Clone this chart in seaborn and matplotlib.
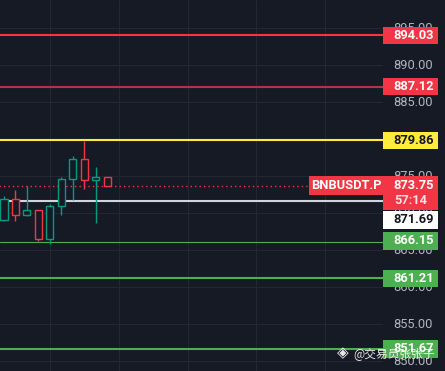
import matplotlib
matplotlib.use("Agg")
import matplotlib.pyplot as plt
from matplotlib.patches import Rectangle
import seaborn as sns
import numpy as np

# ---- data ----
opens = [869.15, 871.99, 869.82, 870.50, 866.58, 871.04, 874.69, 877.39, 874.55, 874.96]
closes = [871.99, 869.82, 870.50, 866.58, 871.04, 874.69, 877.39, 874.55, 874.96, 873.75]
highs = [872.30, 873.11, 873.65, 870.50, 871.22, 874.91, 877.70, 879.77, 876.22, 874.96]
lows = [868.96, 868.96, 869.64, 866.26, 865.85, 869.73, 871.85, 873.34, 868.69, 873.75]

level_prices = [894.03, 887.12, 879.86, 871.69, 866.15, 861.21, 851.67]
level_colors = ["#F23645", "#B8323F", "#FFEB3B", "#D1D4DC", "#4CAF50", "#4CAF50", "#4CAF50"]
level_widths = [1.5, 1.5, 1.5, 1.5, 0.8, 1.5, 1.5]
box_colors = ["#F23645", "#F23645", "#FFEB3B", "#FFFFFF", "#4CAF50", "#4CAF50", "#4CAF50"]
box_text_colors = ["white", "white", "#131722", "#131722", "white", "white", "white"]
box_centers = [894.03, 887.12, 879.86, 869.12, 866.28, 861.21, 851.67]

last_price = 873.75
countdown = "57:14"
symbol = "BNBUSDT.P"
tick_values = [850, 855, 860, 865, 870, 875, 880, 885, 890, 895]
watermark = "@交易员张张子"

BG = "#161A25"
GRID = "#242733"
UP = "#089981"
DOWN = "#F23645"

sns.set_theme(style="dark", rc={"axes.facecolor": BG, "figure.facecolor": BG})

W, H = 445, 371
fig = plt.figure(figsize=(W / 100, H / 100), dpi=100)
ax = fig.add_axes([0, 0, 383 / W, 1])
ax.set_facecolor(BG)
px = 11.47
ax.set_xlim(-4 / px, (383 - 4) / px)
ylo, yhi = 848.69, 898.82
ax.set_ylim(ylo, yhi)
for s in ax.spines.values():
    s.set_visible(False)
ax.set_xticks([])
ax.set_yticks([])

# grid
for v in tick_values:
    ax.axhline(v, color=GRID, lw=0.8, zorder=0)
for g in [4, 10, 16, 22, 28]:
    ax.axvline(g, color=GRID, lw=0.8, zorder=0)

# levels
for p, c, w in zip(level_prices, level_colors, level_widths):
    ax.axhline(p, color=c, lw=w, zorder=1)

# current price dotted line
ax.hlines(last_price, -1, (309 - 4) / px, colors=DOWN, lw=1.0, linestyles=(0, (1, 2.2)), zorder=2)

# candles
xs = np.arange(len(opens))
for i, (o, c, h, l) in enumerate(zip(opens, closes, highs, lows)):
    col = UP if c >= o else DOWN
    ax.vlines(i, l, h, color=col, lw=1.0, zorder=3)
    lo, hi = min(o, c), max(o, c)
    ax.bar(i, hi - lo, bottom=lo, width=0.62, facecolor=BG, edgecolor=col, lw=1.0, zorder=4)

# symbol label box
unit = (yhi - ylo) / H
ax.add_patch(Rectangle(((309 - 4) / px, last_price - 9 * unit), 74 / px, 18.3 * unit,
                       facecolor=DOWN, edgecolor="none", zorder=6, clip_on=False))
ax.text((346 - 4) / px, last_price, symbol, color="white", fontsize=9.3, fontweight="bold",
        family="Roboto", ha="center", va="center", zorder=7)

# price scale axes
ax2 = fig.add_axes([383 / W, 0, 62 / W, 1])
ax2.set_facecolor(BG)
ax2.set_xlim(0, 62)
ax2.set_ylim(ylo, yhi)
ax2.axis("off")
for v in tick_values:
    ax2.text(10, v, f"{v:.2f}", color="#B2B5BE", fontsize=9.3, family="Roboto",
             ha="left", va="center", zorder=1)

bh = 17.5 * unit
for p, bc, tc, cen in zip(level_prices, box_colors, box_text_colors, box_centers):
    ax2.add_patch(Rectangle((0, cen - bh / 2), 54.7, bh, facecolor=bc, edgecolor="none", zorder=3))
    ax2.text(10, cen, f"{p:.2f}", color=tc, fontsize=9.3, fontweight="bold", family="Roboto",
             ha="left", va="center", zorder=4)

# last price box (two lines)
ax2.add_patch(Rectangle((0, last_price - 24.7 * unit), 54.7, 34 * unit,
                        facecolor=DOWN, edgecolor="none", zorder=5))
ax2.text(10, last_price, f"{last_price:.2f}", color="white", fontsize=9.3, fontweight="bold",
         family="Roboto", ha="left", va="center", zorder=6)
ax2.text(11, last_price - 15 * unit, countdown, color="#FFE0E3", fontsize=9.3, fontweight="bold",
         family="Roboto", ha="left", va="center", zorder=6)

# watermark
fig.text(343 / W, 1 - 353 / H, "◈", color="white", alpha=0.9, fontsize=11,
         family=["DejaVu Sans"], ha="center", va="center")
fig.text(353 / W, 1 - 354 / H, watermark, color="white", alpha=0.9, fontsize=8.5,
         family=["Noto Sans CJK SC", "DejaVu Sans"], ha="left", va="center")

fig.savefig("out.png", dpi=100, facecolor=BG)
